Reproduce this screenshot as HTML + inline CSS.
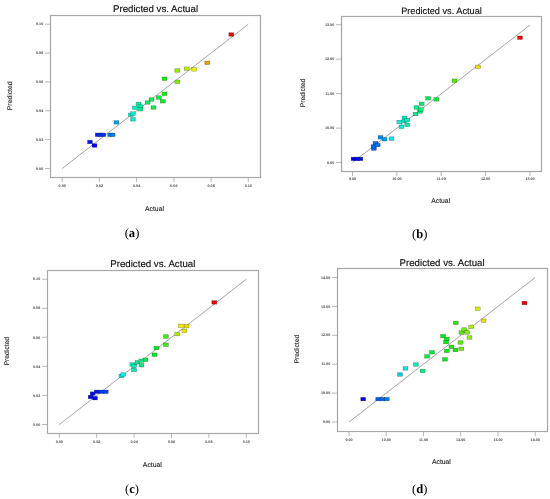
<!DOCTYPE html>
<html><head><meta charset="utf-8"><title>Predicted vs. Actual</title>
<style>
html,body{margin:0;padding:0;background:#fff;}
body{width:550px;height:499px;overflow:hidden;}
svg{display:block;}
text{text-rendering:geometricPrecision;}
.ti{font-family:"Liberation Sans",Arial,sans-serif;fill:#111;stroke:#111;stroke-width:0.15px;}
.lb{font-family:"Liberation Sans",Arial,sans-serif;font-size:6.8px;fill:#222;stroke:#222;stroke-width:0.1px;}
.tk{font-family:"Liberation Sans",Arial,sans-serif;font-size:3.7px;font-weight:bold;fill:#444;}
.cap{font-family:"Liberation Serif","Times New Roman",serif;font-size:12.6px;fill:#000;}
</style></head>
<body>
<svg width="550" height="499" viewBox="0 0 550 499">
<rect width="550" height="499" fill="#fff"/>
<g>
<rect x="50.5" y="15.5" width="210.0" height="162.0" fill="none" stroke="#a6a6a6" stroke-width="1.2"/>
<line x1="62.2" y1="177.5" x2="62.2" y2="182.1" stroke="#a6a6a6" stroke-width="0.8"/>
<text class="tk" x="62.2" y="187.1" text-anchor="middle">0.00</text>
<line x1="99.4" y1="177.5" x2="99.4" y2="182.1" stroke="#a6a6a6" stroke-width="0.8"/>
<text class="tk" x="99.4" y="187.1" text-anchor="middle">0.02</text>
<line x1="136.6" y1="177.5" x2="136.6" y2="182.1" stroke="#a6a6a6" stroke-width="0.8"/>
<text class="tk" x="136.6" y="187.1" text-anchor="middle">0.04</text>
<line x1="173.9" y1="177.5" x2="173.9" y2="182.1" stroke="#a6a6a6" stroke-width="0.8"/>
<text class="tk" x="173.9" y="187.1" text-anchor="middle">0.06</text>
<line x1="211.1" y1="177.5" x2="211.1" y2="182.1" stroke="#a6a6a6" stroke-width="0.8"/>
<text class="tk" x="211.1" y="187.1" text-anchor="middle">0.08</text>
<line x1="248.3" y1="177.5" x2="248.3" y2="182.1" stroke="#a6a6a6" stroke-width="0.8"/>
<text class="tk" x="248.3" y="187.1" text-anchor="middle">0.10</text>
<line x1="45.0" y1="168.5" x2="50.5" y2="168.5" stroke="#a6a6a6" stroke-width="0.8"/>
<text class="tk" x="43.2" y="169.7" text-anchor="end">0.00</text>
<line x1="45.0" y1="139.6" x2="50.5" y2="139.6" stroke="#a6a6a6" stroke-width="0.8"/>
<text class="tk" x="43.2" y="140.8" text-anchor="end">0.02</text>
<line x1="45.0" y1="110.8" x2="50.5" y2="110.8" stroke="#a6a6a6" stroke-width="0.8"/>
<text class="tk" x="43.2" y="111.9" text-anchor="end">0.04</text>
<line x1="45.0" y1="81.9" x2="50.5" y2="81.9" stroke="#a6a6a6" stroke-width="0.8"/>
<text class="tk" x="43.2" y="83.1" text-anchor="end">0.06</text>
<line x1="45.0" y1="53.1" x2="50.5" y2="53.1" stroke="#a6a6a6" stroke-width="0.8"/>
<text class="tk" x="43.2" y="54.2" text-anchor="end">0.08</text>
<line x1="45.0" y1="24.2" x2="50.5" y2="24.2" stroke="#a6a6a6" stroke-width="0.8"/>
<text class="tk" x="43.2" y="25.3" text-anchor="end">0.10</text>
<line x1="62.2" y1="168.5" x2="248.3" y2="24.2" stroke="#9a9a9a" stroke-width="0.9"/>
<rect x="87.55" y="140.25" width="4.9" height="3.5" fill="#0012ee" stroke="rgba(0,0,0,0.42)" stroke-width="0.5"/>
<rect x="92.05" y="143.75" width="4.9" height="3.5" fill="#0000ee" stroke="rgba(0,0,0,0.42)" stroke-width="0.5"/>
<rect x="95.25" y="133.05" width="4.9" height="3.5" fill="#0023ee" stroke="rgba(0,0,0,0.42)" stroke-width="0.5"/>
<rect x="98.05" y="133.05" width="4.9" height="3.5" fill="#002cee" stroke="rgba(0,0,0,0.42)" stroke-width="0.5"/>
<rect x="100.85" y="133.05" width="4.9" height="3.5" fill="#0035ee" stroke="rgba(0,0,0,0.42)" stroke-width="0.5"/>
<rect x="107.75" y="133.05" width="4.9" height="3.5" fill="#0077ee" stroke="rgba(0,0,0,0.42)" stroke-width="0.5"/>
<rect x="110.15" y="133.05" width="4.9" height="3.5" fill="#0080ee" stroke="rgba(0,0,0,0.42)" stroke-width="0.5"/>
<rect x="113.95" y="120.65" width="4.9" height="3.5" fill="#00a2ee" stroke="rgba(0,0,0,0.42)" stroke-width="0.5"/>
<rect x="128.35" y="113.05" width="4.9" height="3.5" fill="#00eed1" stroke="rgba(0,0,0,0.42)" stroke-width="0.5"/>
<rect x="130.55" y="111.75" width="4.9" height="3.5" fill="#00eed1" stroke="rgba(0,0,0,0.42)" stroke-width="0.5"/>
<rect x="130.55" y="117.55" width="4.9" height="3.5" fill="#00eec9" stroke="rgba(0,0,0,0.42)" stroke-width="0.5"/>
<rect x="132.35" y="106.05" width="4.9" height="3.5" fill="#00eec0" stroke="rgba(0,0,0,0.42)" stroke-width="0.5"/>
<rect x="136.05" y="102.15" width="4.9" height="3.5" fill="#00eeae" stroke="rgba(0,0,0,0.42)" stroke-width="0.5"/>
<rect x="138.05" y="104.75" width="4.9" height="3.5" fill="#00ee9c" stroke="rgba(0,0,0,0.42)" stroke-width="0.5"/>
<rect x="137.85" y="107.55" width="4.9" height="3.5" fill="#00ee92" stroke="rgba(0,0,0,0.42)" stroke-width="0.5"/>
<rect x="145.15" y="100.75" width="4.9" height="3.5" fill="#00ee5c" stroke="rgba(0,0,0,0.42)" stroke-width="0.5"/>
<rect x="149.05" y="97.75" width="4.9" height="3.5" fill="#00ee49" stroke="rgba(0,0,0,0.42)" stroke-width="0.5"/>
<rect x="151.05" y="105.75" width="4.9" height="3.5" fill="#00ee49" stroke="rgba(0,0,0,0.42)" stroke-width="0.5"/>
<rect x="156.35" y="95.75" width="4.9" height="3.5" fill="#00ee37" stroke="rgba(0,0,0,0.42)" stroke-width="0.5"/>
<rect x="160.35" y="99.55" width="4.9" height="3.5" fill="#00ee25" stroke="rgba(0,0,0,0.42)" stroke-width="0.5"/>
<rect x="162.05" y="92.05" width="4.9" height="3.5" fill="#12ee00" stroke="rgba(0,0,0,0.42)" stroke-width="0.5"/>
<rect x="162.05" y="76.95" width="4.9" height="3.5" fill="#12ee00" stroke="rgba(0,0,0,0.42)" stroke-width="0.5"/>
<rect x="174.85" y="80.05" width="4.9" height="3.5" fill="#7bee00" stroke="rgba(0,0,0,0.42)" stroke-width="0.5"/>
<rect x="174.85" y="68.75" width="4.9" height="3.5" fill="#8dee00" stroke="rgba(0,0,0,0.42)" stroke-width="0.5"/>
<rect x="184.25" y="66.95" width="4.9" height="3.5" fill="#c2ee00" stroke="rgba(0,0,0,0.42)" stroke-width="0.5"/>
<rect x="191.75" y="67.65" width="4.9" height="3.5" fill="#eeee00" stroke="rgba(0,0,0,0.42)" stroke-width="0.5"/>
<rect x="204.85" y="61.05" width="4.9" height="3.5" fill="#ee9f00" stroke="rgba(0,0,0,0.42)" stroke-width="0.5"/>
<rect x="228.85" y="32.75" width="4.9" height="3.5" fill="#ee0000" stroke="rgba(0,0,0,0.42)" stroke-width="0.5"/>
<text class="ti" x="155.5" y="12.4" text-anchor="middle" style="font-size:9.7px">Predicted vs. Actual</text>
<text class="lb" transform="translate(12.4,95.8) rotate(-90)" text-anchor="middle">Predicted</text>
<text class="lb" x="154.5" y="210.7" text-anchor="middle">Actual</text>
<text class="cap" x="132" y="237.3" text-anchor="middle">(<tspan font-weight="bold">a</tspan>)</text>
</g>
<g>
<rect x="341.5" y="16.5" width="200.0" height="155.0" fill="none" stroke="#a6a6a6" stroke-width="1.2"/>
<line x1="352.5" y1="171.5" x2="352.5" y2="176.1" stroke="#a6a6a6" stroke-width="0.8"/>
<text class="tk" x="352.5" y="180.3" text-anchor="middle">9.00</text>
<line x1="396.9" y1="171.5" x2="396.9" y2="176.1" stroke="#a6a6a6" stroke-width="0.8"/>
<text class="tk" x="396.9" y="180.3" text-anchor="middle">10.00</text>
<line x1="441.2" y1="171.5" x2="441.2" y2="176.1" stroke="#a6a6a6" stroke-width="0.8"/>
<text class="tk" x="441.2" y="180.3" text-anchor="middle">11.00</text>
<line x1="485.6" y1="171.5" x2="485.6" y2="176.1" stroke="#a6a6a6" stroke-width="0.8"/>
<text class="tk" x="485.6" y="180.3" text-anchor="middle">12.00</text>
<line x1="530.0" y1="171.5" x2="530.0" y2="176.1" stroke="#a6a6a6" stroke-width="0.8"/>
<text class="tk" x="530.0" y="180.3" text-anchor="middle">13.00</text>
<line x1="336.0" y1="162.5" x2="341.5" y2="162.5" stroke="#a6a6a6" stroke-width="0.8"/>
<text class="tk" x="334.2" y="163.7" text-anchor="end">9.00</text>
<line x1="336.0" y1="128.1" x2="341.5" y2="128.1" stroke="#a6a6a6" stroke-width="0.8"/>
<text class="tk" x="334.2" y="129.2" text-anchor="end">10.00</text>
<line x1="336.0" y1="93.6" x2="341.5" y2="93.6" stroke="#a6a6a6" stroke-width="0.8"/>
<text class="tk" x="334.2" y="94.8" text-anchor="end">11.00</text>
<line x1="336.0" y1="59.1" x2="341.5" y2="59.1" stroke="#a6a6a6" stroke-width="0.8"/>
<text class="tk" x="334.2" y="60.3" text-anchor="end">12.00</text>
<line x1="336.0" y1="24.7" x2="341.5" y2="24.7" stroke="#a6a6a6" stroke-width="0.8"/>
<text class="tk" x="334.2" y="25.8" text-anchor="end">13.00</text>
<line x1="352.5" y1="162.5" x2="529.8" y2="25.2" stroke="#9a9a9a" stroke-width="0.9"/>
<rect x="351.15" y="157.15" width="4.9" height="3.5" fill="#0000ee" stroke="rgba(0,0,0,0.42)" stroke-width="0.5"/>
<rect x="354.55" y="157.15" width="4.9" height="3.5" fill="#0009ee" stroke="rgba(0,0,0,0.42)" stroke-width="0.5"/>
<rect x="357.95" y="157.15" width="4.9" height="3.5" fill="#0012ee" stroke="rgba(0,0,0,0.42)" stroke-width="0.5"/>
<rect x="371.45" y="146.85" width="4.9" height="3.5" fill="#0066ee" stroke="rgba(0,0,0,0.42)" stroke-width="0.5"/>
<rect x="371.15" y="144.65" width="4.9" height="3.5" fill="#0066ee" stroke="rgba(0,0,0,0.42)" stroke-width="0.5"/>
<rect x="373.05" y="141.45" width="4.9" height="3.5" fill="#006eee" stroke="rgba(0,0,0,0.42)" stroke-width="0.5"/>
<rect x="375.25" y="143.25" width="4.9" height="3.5" fill="#0077ee" stroke="rgba(0,0,0,0.42)" stroke-width="0.5"/>
<rect x="378.05" y="135.55" width="4.9" height="3.5" fill="#0090ee" stroke="rgba(0,0,0,0.42)" stroke-width="0.5"/>
<rect x="382.05" y="137.55" width="4.9" height="3.5" fill="#00a2ee" stroke="rgba(0,0,0,0.42)" stroke-width="0.5"/>
<rect x="389.05" y="136.85" width="4.9" height="3.5" fill="#00e6ee" stroke="rgba(0,0,0,0.42)" stroke-width="0.5"/>
<rect x="396.85" y="120.25" width="4.9" height="3.5" fill="#00eee6" stroke="rgba(0,0,0,0.42)" stroke-width="0.5"/>
<rect x="399.05" y="125.05" width="4.9" height="3.5" fill="#00eed4" stroke="rgba(0,0,0,0.42)" stroke-width="0.5"/>
<rect x="402.05" y="116.05" width="4.9" height="3.5" fill="#00eec2" stroke="rgba(0,0,0,0.42)" stroke-width="0.5"/>
<rect x="402.05" y="119.05" width="4.9" height="3.5" fill="#00eec2" stroke="rgba(0,0,0,0.42)" stroke-width="0.5"/>
<rect x="404.75" y="118.45" width="4.9" height="3.5" fill="#00eeb9" stroke="rgba(0,0,0,0.42)" stroke-width="0.5"/>
<rect x="404.75" y="123.05" width="4.9" height="3.5" fill="#00eeb0" stroke="rgba(0,0,0,0.42)" stroke-width="0.5"/>
<rect x="413.05" y="112.25" width="4.9" height="3.5" fill="#00ee8d" stroke="rgba(0,0,0,0.42)" stroke-width="0.5"/>
<rect x="414.05" y="105.75" width="4.9" height="3.5" fill="#00ee84" stroke="rgba(0,0,0,0.42)" stroke-width="0.5"/>
<rect x="417.55" y="109.75" width="4.9" height="3.5" fill="#00ee7b" stroke="rgba(0,0,0,0.42)" stroke-width="0.5"/>
<rect x="418.35" y="107.75" width="4.9" height="3.5" fill="#00ee73" stroke="rgba(0,0,0,0.42)" stroke-width="0.5"/>
<rect x="419.25" y="102.05" width="4.9" height="3.5" fill="#00ee6a" stroke="rgba(0,0,0,0.42)" stroke-width="0.5"/>
<rect x="425.65" y="96.55" width="4.9" height="3.5" fill="#00ee49" stroke="rgba(0,0,0,0.42)" stroke-width="0.5"/>
<rect x="433.95" y="97.65" width="4.9" height="3.5" fill="#00ee37" stroke="rgba(0,0,0,0.42)" stroke-width="0.5"/>
<rect x="452.05" y="78.95" width="4.9" height="3.5" fill="#47ee00" stroke="rgba(0,0,0,0.42)" stroke-width="0.5"/>
<rect x="475.65" y="65.05" width="4.9" height="3.5" fill="#eede00" stroke="rgba(0,0,0,0.42)" stroke-width="0.5"/>
<rect x="517.55" y="35.95" width="4.9" height="3.5" fill="#ee0000" stroke="rgba(0,0,0,0.42)" stroke-width="0.5"/>
<text class="ti" x="441.5" y="13.6" text-anchor="middle" style="font-size:9.2px">Predicted vs. Actual</text>
<text class="lb" transform="translate(305,93) rotate(-90)" text-anchor="middle">Predicted</text>
<text class="lb" x="440.7" y="202.7" text-anchor="middle">Actual</text>
<text class="cap" x="419.8" y="237.5" text-anchor="middle">(<tspan font-weight="bold">b</tspan>)</text>
</g>
<g>
<rect x="47.5" y="270.5" width="211.0" height="163.0" fill="none" stroke="#a6a6a6" stroke-width="1.2"/>
<line x1="59.3" y1="433.5" x2="59.3" y2="438.1" stroke="#a6a6a6" stroke-width="0.8"/>
<text class="tk" x="59.3" y="443.3" text-anchor="middle">0.00</text>
<line x1="96.7" y1="433.5" x2="96.7" y2="438.1" stroke="#a6a6a6" stroke-width="0.8"/>
<text class="tk" x="96.7" y="443.3" text-anchor="middle">0.02</text>
<line x1="134.1" y1="433.5" x2="134.1" y2="438.1" stroke="#a6a6a6" stroke-width="0.8"/>
<text class="tk" x="134.1" y="443.3" text-anchor="middle">0.04</text>
<line x1="171.5" y1="433.5" x2="171.5" y2="438.1" stroke="#a6a6a6" stroke-width="0.8"/>
<text class="tk" x="171.5" y="443.3" text-anchor="middle">0.06</text>
<line x1="208.9" y1="433.5" x2="208.9" y2="438.1" stroke="#a6a6a6" stroke-width="0.8"/>
<text class="tk" x="208.9" y="443.3" text-anchor="middle">0.08</text>
<line x1="246.3" y1="433.5" x2="246.3" y2="438.1" stroke="#a6a6a6" stroke-width="0.8"/>
<text class="tk" x="246.3" y="443.3" text-anchor="middle">0.10</text>
<line x1="42.0" y1="424.5" x2="47.5" y2="424.5" stroke="#a6a6a6" stroke-width="0.8"/>
<text class="tk" x="40.2" y="425.6" text-anchor="end">0.00</text>
<line x1="42.0" y1="395.4" x2="47.5" y2="395.4" stroke="#a6a6a6" stroke-width="0.8"/>
<text class="tk" x="40.2" y="396.6" text-anchor="end">0.02</text>
<line x1="42.0" y1="366.4" x2="47.5" y2="366.4" stroke="#a6a6a6" stroke-width="0.8"/>
<text class="tk" x="40.2" y="367.5" text-anchor="end">0.04</text>
<line x1="42.0" y1="337.3" x2="47.5" y2="337.3" stroke="#a6a6a6" stroke-width="0.8"/>
<text class="tk" x="40.2" y="338.5" text-anchor="end">0.06</text>
<line x1="42.0" y1="308.3" x2="47.5" y2="308.3" stroke="#a6a6a6" stroke-width="0.8"/>
<text class="tk" x="40.2" y="309.4" text-anchor="end">0.08</text>
<line x1="42.0" y1="279.2" x2="47.5" y2="279.2" stroke="#a6a6a6" stroke-width="0.8"/>
<text class="tk" x="40.2" y="280.3" text-anchor="end">0.10</text>
<line x1="59.3" y1="424.5" x2="246.3" y2="279.2" stroke="#9a9a9a" stroke-width="0.9"/>
<rect x="88.25" y="395.25" width="4.9" height="3.5" fill="#0000ee" stroke="rgba(0,0,0,0.42)" stroke-width="0.5"/>
<rect x="92.55" y="396.45" width="4.9" height="3.5" fill="#0000ee" stroke="rgba(0,0,0,0.42)" stroke-width="0.5"/>
<rect x="90.25" y="391.85" width="4.9" height="3.5" fill="#0009ee" stroke="rgba(0,0,0,0.42)" stroke-width="0.5"/>
<rect x="94.25" y="390.05" width="4.9" height="3.5" fill="#001aee" stroke="rgba(0,0,0,0.42)" stroke-width="0.5"/>
<rect x="98.85" y="390.05" width="4.9" height="3.5" fill="#0035ee" stroke="rgba(0,0,0,0.42)" stroke-width="0.5"/>
<rect x="103.35" y="390.05" width="4.9" height="3.5" fill="#0044ee" stroke="rgba(0,0,0,0.42)" stroke-width="0.5"/>
<rect x="118.95" y="374.15" width="4.9" height="3.5" fill="#00eeee" stroke="rgba(0,0,0,0.42)" stroke-width="0.5"/>
<rect x="120.75" y="372.75" width="4.9" height="3.5" fill="#00eeee" stroke="rgba(0,0,0,0.42)" stroke-width="0.5"/>
<rect x="129.85" y="362.75" width="4.9" height="3.5" fill="#00eeb0" stroke="rgba(0,0,0,0.42)" stroke-width="0.5"/>
<rect x="131.65" y="364.15" width="4.9" height="3.5" fill="#00eeb0" stroke="rgba(0,0,0,0.42)" stroke-width="0.5"/>
<rect x="131.65" y="368.25" width="4.9" height="3.5" fill="#00eeb0" stroke="rgba(0,0,0,0.42)" stroke-width="0.5"/>
<rect x="135.05" y="360.55" width="4.9" height="3.5" fill="#00ee9f" stroke="rgba(0,0,0,0.42)" stroke-width="0.5"/>
<rect x="138.95" y="358.95" width="4.9" height="3.5" fill="#00ee84" stroke="rgba(0,0,0,0.42)" stroke-width="0.5"/>
<rect x="139.05" y="363.55" width="4.9" height="3.5" fill="#00ee7b" stroke="rgba(0,0,0,0.42)" stroke-width="0.5"/>
<rect x="143.05" y="358.05" width="4.9" height="3.5" fill="#00ee49" stroke="rgba(0,0,0,0.42)" stroke-width="0.5"/>
<rect x="152.05" y="352.95" width="4.9" height="3.5" fill="#00ee25" stroke="rgba(0,0,0,0.42)" stroke-width="0.5"/>
<rect x="153.95" y="346.25" width="4.9" height="3.5" fill="#00ee25" stroke="rgba(0,0,0,0.42)" stroke-width="0.5"/>
<rect x="163.45" y="334.75" width="4.9" height="3.5" fill="#35ee00" stroke="rgba(0,0,0,0.42)" stroke-width="0.5"/>
<rect x="163.45" y="342.95" width="4.9" height="3.5" fill="#35ee00" stroke="rgba(0,0,0,0.42)" stroke-width="0.5"/>
<rect x="174.75" y="332.35" width="4.9" height="3.5" fill="#b0ee00" stroke="rgba(0,0,0,0.42)" stroke-width="0.5"/>
<rect x="178.35" y="324.05" width="4.9" height="3.5" fill="#eeee00" stroke="rgba(0,0,0,0.42)" stroke-width="0.5"/>
<rect x="181.95" y="329.15" width="4.9" height="3.5" fill="#eee600" stroke="rgba(0,0,0,0.42)" stroke-width="0.5"/>
<rect x="184.15" y="324.45" width="4.9" height="3.5" fill="#eede00" stroke="rgba(0,0,0,0.42)" stroke-width="0.5"/>
<rect x="211.85" y="300.65" width="4.9" height="3.5" fill="#ee0000" stroke="rgba(0,0,0,0.42)" stroke-width="0.5"/>
<text class="ti" x="152.8" y="267.4" text-anchor="middle" style="font-size:9.7px">Predicted vs. Actual</text>
<text class="lb" transform="translate(8.6,351.2) rotate(-90)" text-anchor="middle">Predicted</text>
<text class="lb" x="152.3" y="467" text-anchor="middle">Actual</text>
<text class="cap" x="132" y="492.7" text-anchor="middle">(<tspan font-weight="bold">c</tspan>)</text>
</g>
<g>
<rect x="337.5" y="268.5" width="210.0" height="163.0" fill="none" stroke="#a6a6a6" stroke-width="1.2"/>
<line x1="349.0" y1="431.5" x2="349.0" y2="436.1" stroke="#a6a6a6" stroke-width="0.8"/>
<text class="tk" x="349.0" y="440.8" text-anchor="middle">9.00</text>
<line x1="386.2" y1="431.5" x2="386.2" y2="436.1" stroke="#a6a6a6" stroke-width="0.8"/>
<text class="tk" x="386.2" y="440.8" text-anchor="middle">10.00</text>
<line x1="423.5" y1="431.5" x2="423.5" y2="436.1" stroke="#a6a6a6" stroke-width="0.8"/>
<text class="tk" x="423.5" y="440.8" text-anchor="middle">11.00</text>
<line x1="460.7" y1="431.5" x2="460.7" y2="436.1" stroke="#a6a6a6" stroke-width="0.8"/>
<text class="tk" x="460.7" y="440.8" text-anchor="middle">12.00</text>
<line x1="498.0" y1="431.5" x2="498.0" y2="436.1" stroke="#a6a6a6" stroke-width="0.8"/>
<text class="tk" x="498.0" y="440.8" text-anchor="middle">13.00</text>
<line x1="535.2" y1="431.5" x2="535.2" y2="436.1" stroke="#a6a6a6" stroke-width="0.8"/>
<text class="tk" x="535.2" y="440.8" text-anchor="middle">14.00</text>
<line x1="332.0" y1="422.0" x2="337.5" y2="422.0" stroke="#a6a6a6" stroke-width="0.8"/>
<text class="tk" x="330.2" y="423.1" text-anchor="end">9.00</text>
<line x1="332.0" y1="393.1" x2="337.5" y2="393.1" stroke="#a6a6a6" stroke-width="0.8"/>
<text class="tk" x="330.2" y="394.2" text-anchor="end">10.00</text>
<line x1="332.0" y1="364.2" x2="337.5" y2="364.2" stroke="#a6a6a6" stroke-width="0.8"/>
<text class="tk" x="330.2" y="365.3" text-anchor="end">11.00</text>
<line x1="332.0" y1="335.3" x2="337.5" y2="335.3" stroke="#a6a6a6" stroke-width="0.8"/>
<text class="tk" x="330.2" y="336.4" text-anchor="end">12.00</text>
<line x1="332.0" y1="306.4" x2="337.5" y2="306.4" stroke="#a6a6a6" stroke-width="0.8"/>
<text class="tk" x="330.2" y="307.5" text-anchor="end">13.00</text>
<line x1="332.0" y1="277.5" x2="337.5" y2="277.5" stroke="#a6a6a6" stroke-width="0.8"/>
<text class="tk" x="330.2" y="278.6" text-anchor="end">14.00</text>
<line x1="349" y1="422" x2="535.2" y2="277.5" stroke="#9a9a9a" stroke-width="0.9"/>
<rect x="360.75" y="397.35" width="4.9" height="3.5" fill="#0000ee" stroke="rgba(0,0,0,0.42)" stroke-width="0.5"/>
<rect x="375.75" y="397.35" width="4.9" height="3.5" fill="#0058ee" stroke="rgba(0,0,0,0.42)" stroke-width="0.5"/>
<rect x="380.05" y="397.35" width="4.9" height="3.5" fill="#0066ee" stroke="rgba(0,0,0,0.42)" stroke-width="0.5"/>
<rect x="384.35" y="397.35" width="4.9" height="3.5" fill="#0080ee" stroke="rgba(0,0,0,0.42)" stroke-width="0.5"/>
<rect x="397.55" y="372.75" width="4.9" height="3.5" fill="#00ccee" stroke="rgba(0,0,0,0.42)" stroke-width="0.5"/>
<rect x="403.05" y="366.65" width="4.9" height="3.5" fill="#00e6ee" stroke="rgba(0,0,0,0.42)" stroke-width="0.5"/>
<rect x="413.45" y="362.75" width="4.9" height="3.5" fill="#00eeb0" stroke="rgba(0,0,0,0.42)" stroke-width="0.5"/>
<rect x="420.15" y="369.15" width="4.9" height="3.5" fill="#00ee80" stroke="rgba(0,0,0,0.42)" stroke-width="0.5"/>
<rect x="424.65" y="354.65" width="4.9" height="3.5" fill="#00ee49" stroke="rgba(0,0,0,0.42)" stroke-width="0.5"/>
<rect x="429.55" y="350.55" width="4.9" height="3.5" fill="#00ee40" stroke="rgba(0,0,0,0.42)" stroke-width="0.5"/>
<rect x="440.65" y="334.35" width="4.9" height="3.5" fill="#00ee12" stroke="rgba(0,0,0,0.42)" stroke-width="0.5"/>
<rect x="444.25" y="337.15" width="4.9" height="3.5" fill="#00ee12" stroke="rgba(0,0,0,0.42)" stroke-width="0.5"/>
<rect x="443.65" y="340.35" width="4.9" height="3.5" fill="#00ee12" stroke="rgba(0,0,0,0.42)" stroke-width="0.5"/>
<rect x="444.35" y="349.15" width="4.9" height="3.5" fill="#00ee12" stroke="rgba(0,0,0,0.42)" stroke-width="0.5"/>
<rect x="442.55" y="357.65" width="4.9" height="3.5" fill="#00ee12" stroke="rgba(0,0,0,0.42)" stroke-width="0.5"/>
<rect x="448.95" y="345.05" width="4.9" height="3.5" fill="#12ee00" stroke="rgba(0,0,0,0.42)" stroke-width="0.5"/>
<rect x="453.05" y="348.25" width="4.9" height="3.5" fill="#12ee00" stroke="rgba(0,0,0,0.42)" stroke-width="0.5"/>
<rect x="453.35" y="321.15" width="4.9" height="3.5" fill="#23ee00" stroke="rgba(0,0,0,0.42)" stroke-width="0.5"/>
<rect x="458.05" y="340.75" width="4.9" height="3.5" fill="#58ee00" stroke="rgba(0,0,0,0.42)" stroke-width="0.5"/>
<rect x="458.85" y="347.05" width="4.9" height="3.5" fill="#6aee00" stroke="rgba(0,0,0,0.42)" stroke-width="0.5"/>
<rect x="458.95" y="330.75" width="4.9" height="3.5" fill="#58ee00" stroke="rgba(0,0,0,0.42)" stroke-width="0.5"/>
<rect x="461.75" y="327.75" width="4.9" height="3.5" fill="#6aee00" stroke="rgba(0,0,0,0.42)" stroke-width="0.5"/>
<rect x="464.65" y="330.75" width="4.9" height="3.5" fill="#7bee00" stroke="rgba(0,0,0,0.42)" stroke-width="0.5"/>
<rect x="467.05" y="335.75" width="4.9" height="3.5" fill="#8dee00" stroke="rgba(0,0,0,0.42)" stroke-width="0.5"/>
<rect x="468.75" y="325.15" width="4.9" height="3.5" fill="#b0ee00" stroke="rgba(0,0,0,0.42)" stroke-width="0.5"/>
<rect x="475.25" y="306.95" width="4.9" height="3.5" fill="#dcee00" stroke="rgba(0,0,0,0.42)" stroke-width="0.5"/>
<rect x="481.15" y="318.95" width="4.9" height="3.5" fill="#eede00" stroke="rgba(0,0,0,0.42)" stroke-width="0.5"/>
<rect x="522.05" y="301.25" width="4.9" height="3.5" fill="#ee0000" stroke="rgba(0,0,0,0.42)" stroke-width="0.5"/>
<text class="ti" x="442.1" y="266" text-anchor="middle" style="font-size:9.7px">Predicted vs. Actual</text>
<text class="lb" transform="translate(299,349.1) rotate(-90)" text-anchor="middle">Predicted</text>
<text class="lb" x="441.4" y="463.9" text-anchor="middle">Actual</text>
<text class="cap" x="419.8" y="492.7" text-anchor="middle">(<tspan font-weight="bold">d</tspan>)</text>
</g>
</svg>
</body></html>
